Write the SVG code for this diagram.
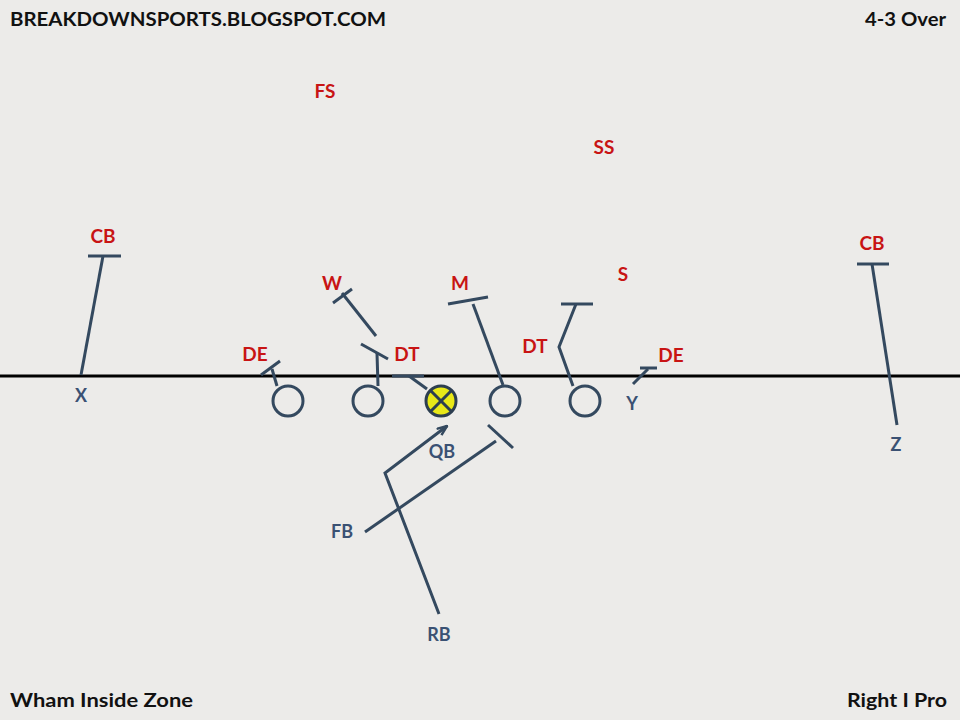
<svg xmlns="http://www.w3.org/2000/svg" width="960" height="720" viewBox="0 0 960 720">
<defs>
<style>
.bg{fill:#ECEBE9}
.los{stroke:#000;stroke-width:3}
.rt{fill:none;stroke:#34495F;stroke-width:3;stroke-linecap:butt;stroke-linejoin:miter}
.ol{fill:none;stroke:#34495F;stroke-width:3}
.qb{fill:#E8E818;stroke:#2C3E50;stroke-width:3}
.hd{font-family:Lato,"Open Sans","Liberation Sans",sans-serif;font-weight:bold;font-size:18px;fill:#111}
.df{font-family:Lato,"Open Sans","Liberation Sans",sans-serif;font-weight:bold;font-size:19px;fill:#C81414;text-anchor:middle}
.of{font-family:Lato,"Open Sans","Liberation Sans",sans-serif;font-weight:bold;font-size:18px;fill:#3A5173;text-anchor:middle}
</style>
<marker id="arr" viewBox="0 0 12 10" refX="11" refY="5" markerWidth="12" markerHeight="10" markerUnits="userSpaceOnUse" orient="auto">
<path d="M1,1 L11,5 L1,9" fill="none" stroke="#34495F" stroke-width="2.5"/>
</marker>
</defs>
<rect class="bg" x="0" y="0" width="960" height="720"/>
<line class="los" x1="0" y1="376" x2="960" y2="376"/>

<g id="headers">
<text class="hd" x="10" y="26" textLength="376" lengthAdjust="spacingAndGlyphs">BREAKDOWNSPORTS.BLOGSPOT.COM</text>
<text class="hd" x="865" y="26" textLength="81" lengthAdjust="spacingAndGlyphs">4-3 Over</text>
<text class="hd" x="10" y="707" textLength="183" lengthAdjust="spacingAndGlyphs">Wham Inside Zone</text>
<text class="hd" x="847" y="707" textLength="100" lengthAdjust="spacingAndGlyphs">Right I Pro</text>
</g>

<g id="connectors">
<!-- CB left / X -->
<polyline class="rt" points="81,375 103,256"/>
<line class="rt" x1="88" y1="256" x2="121" y2="256"/>
<!-- CB right / Z -->
<polyline class="rt" points="897,425 872,264"/>
<line class="rt" x1="857" y1="264" x2="889" y2="264"/>
<!-- LT block on DE -->
<line class="rt" x1="277" y1="386" x2="272" y2="369"/>
<line class="rt" x1="261" y1="375" x2="280" y2="361"/>
<!-- LG block on DT -->
<line class="rt" x1="378" y1="386" x2="377" y2="353"/>
<line class="rt" x1="361" y1="344" x2="388" y2="359"/>
<!-- W -->
<line class="rt" x1="376" y1="336" x2="342" y2="293"/>
<line class="rt" x1="333" y1="303" x2="352" y2="289"/>
<!-- Center -->
<line class="rt" x1="427" y1="389" x2="409" y2="376"/>
<line class="rt" x1="392" y1="376" x2="424" y2="376"/>
<!-- RG to M -->
<line class="rt" x1="503" y1="385" x2="473" y2="304"/>
<line class="rt" x1="448" y1="304" x2="488" y2="297"/>
<!-- RT -->
<polyline class="rt" points="573,386 559,347 576,304"/>
<line class="rt" x1="561" y1="304" x2="593" y2="304"/>
<!-- Y -->
<line class="rt" x1="633" y1="384" x2="648" y2="369"/>
<line class="rt" x1="640" y1="368" x2="657" y2="368"/>
<!-- FB wham -->
<line class="rt" x1="365" y1="532" x2="496" y2="441"/>
<line class="rt" x1="488" y1="425" x2="513" y2="448"/>
<!-- RB -->
<polyline class="rt" points="439,614 385,473 447,426" marker-end="url(#arr)"/>
</g>

<g id="ol-lt"><circle class="ol" cx="288" cy="401" r="15"/></g>
<g id="ol-lg"><circle class="ol" cx="368" cy="401" r="15"/></g>
<g id="ol-c">
<circle class="qb" cx="441" cy="401" r="15"/>
<line class="rt" x1="430.5" y1="390.5" x2="451.5" y2="411.5" style="stroke:#2C3E50"/>
<line class="rt" x1="451.5" y1="390.5" x2="430.5" y2="411.5" style="stroke:#2C3E50"/>
</g>
<g id="ol-rg"><circle class="ol" cx="505" cy="401" r="15"/></g>
<g id="ol-rt"><circle class="ol" cx="585" cy="401" r="15"/></g>

<g id="off-x"><text class="of" x="81" y="402">X</text></g>
<g id="off-y"><text class="of" x="632" y="410">Y</text></g>
<g id="off-z"><text class="of" x="896" y="451">Z</text></g>
<g id="off-qb"><text class="of" x="442" y="458">QB</text></g>
<g id="off-fb"><text class="of" x="342" y="538">FB</text></g>
<g id="off-rb"><text class="of" x="439" y="641">RB</text></g>

<g id="def-fs"><text class="df" x="325" y="98">FS</text></g>
<g id="def-ss"><text class="df" x="604" y="154">SS</text></g>
<g id="def-cbl"><text class="df" x="103" y="243">CB</text></g>
<g id="def-cbr"><text class="df" x="872" y="250">CB</text></g>
<g id="def-w"><text class="df" x="332" y="290">W</text></g>
<g id="def-m"><text class="df" x="460" y="290">M</text></g>
<g id="def-s"><text class="df" x="623" y="281">S</text></g>
<g id="def-del"><text class="df" x="255" y="361">DE</text></g>
<g id="def-dtl"><text class="df" x="407" y="361">DT</text></g>
<g id="def-dtr"><text class="df" x="535" y="353">DT</text></g>
<g id="def-der"><text class="df" x="671" y="362">DE</text></g>
</svg>
